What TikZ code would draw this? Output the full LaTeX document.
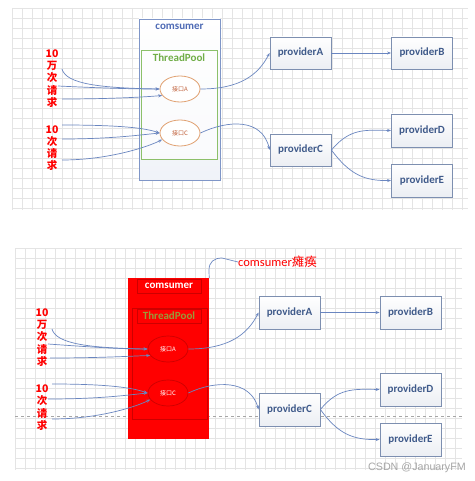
\documentclass[tikz,border=0pt]{standalone}
\usepackage{fontspec}
\setmainfont{Carlito}
\newfontfamily\cjk{Noto Sans CJK SC}
\newfontfamily\wmfont{Liberation Sans}
\usetikzlibrary{arrows.meta,shapes.geometric}
\definecolor{gridc}{HTML}{E4E4E4}
\definecolor{arrc}{HTML}{6A86C0}
\definecolor{consb}{HTML}{7F96C8}
\definecolor{consT}{HTML}{4F6BB5}
\definecolor{tpg}{HTML}{8CC06A}
\definecolor{tpT}{HTML}{70AD47}
\definecolor{ellb}{HTML}{E0A070}
\definecolor{ellT}{HTML}{C0603A}
\definecolor{provb}{HTML}{7D8FB0}
\definecolor{provT}{HTML}{3F5A8A}
\definecolor{darkred}{HTML}{C00000}
\definecolor{olive}{HTML}{9A9A3A}
\definecolor{reqred}{HTML}{FF0000}
\tikzset{
  gridline/.style={draw=gridc, line width=0.5pt},
  consbox/.style={draw=consb, line width=0.9pt, top color=white, bottom color=consb!12, minimum width=81pt, minimum height=161pt, inner sep=0pt},
  tpbox/.style={draw=tpg, line width=0.9pt, fill=white, fill opacity=0.6, minimum width=76pt, minimum height=109pt, inner sep=0pt},
  ell/.style={ellipse, draw=ellb, line width=0.8pt, fill=white, minimum width=40pt, minimum height=26pt, inner sep=0pt, text=ellT, font=\cjk\fontsize{6}{7}\selectfont},
  rell/.style={ellipse, draw=darkred!80!red, line width=0.7pt, minimum width=40pt, minimum height=26pt, inner sep=0pt, text=white, font=\cjk\fontsize{6}{7}\selectfont},
  prov/.style={draw=provb, line width=0.8pt, top color=white, bottom color=provb!15, minimum width=61pt, minimum height=32pt, inner sep=0pt, text=provT, font=\bfseries\fontsize{11}{12}\selectfont},
  reqtext/.style={text=reqred, align=center, inner sep=0pt, font=\cjk\bfseries\fontsize{10.5}{12.25}\selectfont},
  conn/.style={draw=arrc, line width=0.7pt, -{Stealth[length=4pt,width=3pt]}},
  plain/.style={draw=arrc, line width=0.7pt},
  titletext/.style={inner sep=0pt, font=\bfseries\fontsize{11}{12}\selectfont}
}
\begin{document}
\begin{tikzpicture}[x=1pt,y=-1pt]
\useasboundingbox (0,0) rectangle (474,481);
\fill[white] (0,0) rectangle (474,481);
% grids
\foreach \x in {12,22,...,468} \draw[gridline] (\x,8) -- (\x,210);
\foreach \y in {8,18,...,208} \draw[gridline] (12,\y) -- (468,\y);
\foreach \x in {15,25,...,462} \draw[gridline] (\x,248) -- (\x,470);
\foreach \y in {248,258,...,468} \draw[gridline] (15,\y) -- (462,\y);
\draw[draw=gray!70, dashed, line width=0.6pt] (15,416) -- (462,416);

% ===== top diagram =====
\node[consbox] (cons1) at (179.5,99.5) {};
\node[titletext, text=consT] (cons1t) at (179.5,27) {comsumer};
\node[tpbox] (tp1) at (179,104.5) {};
\node[titletext, text=tpT] (tp1t) at (179,58) {ThreadPool};
\node[ell] (iA1) at (180,89) {接口A};
\node[ell] (iC1) at (180,133) {接口C};
\node[prov] (pA1) at (300.5,53) {providerA};
\node[prov] (pB1) at (422,53) {providerB};
\node[prov] (pC1) at (300.5,150) {providerC};
\node[prov, minimum height=33pt] (pD1) at (422,130.5) {providerD};
\node[prov, minimum height=33pt] (pE1) at (422,180.5) {providerE};
\node[reqtext] (r1) at (52,78.5) {10\\万\\次\\请\\求};
\node[reqtext] (r2) at (52,148) {10\\次\\请\\求};

\coordinate (s1) at (62,69);
\coordinate (s2) at (58,86);
\coordinate (s3) at (62,99);
\coordinate (t1) at (62,125);
\coordinate (t2) at (62,139);
\coordinate (t3) at (62,160);
\draw[conn] (s1) .. controls (66,84) and (100,88) .. (iA1.west);
\draw[conn] (s2) .. controls (100,88) and (130,89) .. (iA1.west);
\draw[conn] (s3) .. controls (110,99) and (145,97) .. (iA1.200);
\draw[conn] (t1) .. controls (120,125) and (145,128) .. (iC1.west);
\draw[conn] (t2) .. controls (110,139) and (140,135) .. (iC1.west);
\draw[conn] (t3) .. controls (110,160) and (150,146) .. (iC1.200);
\draw[conn] (iA1.east) .. controls (240,89) and (258,75) .. (pA1.west);
\draw[conn] (pA1) -- (pB1);
\draw[conn] (iC1.east) .. controls (228,120) and (262,118) .. (pC1.west);
\draw[conn] (pC1.east) .. controls (350,128) and (365,130) .. (pD1.west);
\draw[conn] (pC1.east) .. controls (350,175) and (365,181) .. (pE1.west);

% ===== bottom diagram =====
\node[fill=red, minimum width=81pt, minimum height=161pt, inner sep=0pt] (cons2) at (168.5,358.5) {};
\node[draw=darkred!80!red, line width=0.6pt, minimum width=75pt, minimum height=111pt, inner sep=0pt] (tp2) at (169.5,363.5) {};
\node[draw=darkred!80!red, line width=0.6pt, minimum width=64pt, minimum height=14pt, inner sep=0pt, text=white, font=\bfseries\fontsize{11}{12}\selectfont] (cons2t) at (169,286) {comsumer};
\node[draw=darkred!80!red, line width=0.6pt, minimum width=64pt, minimum height=14pt, inner sep=0pt, text=olive, font=\bfseries\fontsize{11}{12}\selectfont] (tp2t) at (169,316) {ThreadPool};
\node[rell] (iA2) at (168,349) {接口A};
\node[rell] (iC2) at (168,393) {接口C};
\node[prov, minimum height=33pt] (pA2) at (289.5,312.5) {providerA};
\node[prov, minimum height=33pt] (pB2) at (410.5,312.5) {providerB};
\node[prov, minimum height=33pt] (pC2) at (289.5,409.5) {providerC};
\node[prov, minimum height=33pt] (pD2) at (410.5,389.5) {providerD};
\node[prov, minimum height=33pt] (pE2) at (410.5,439.5) {providerE};
\node[reqtext] (r3) at (42,337.5) {10\\万\\次\\请\\求};
\node[reqtext] (r4) at (42,407.5) {10\\次\\请\\求};
\node[anchor=west, inner sep=0pt, text=red, font=\fontsize{12.5}{13}\selectfont] (lab) at (238,262) {comsumer{\cjk 瘫痪}};
\draw[plain] (cons2.north east) -- (209,270) .. controls (209,262) and (214,258) .. (222,258) -- (lab.west);

\coordinate (u1) at (52,329);
\coordinate (u2) at (48,344);
\coordinate (u3) at (50,358);
\coordinate (v1) at (52,384);
\coordinate (v2) at (48,399);
\coordinate (v3) at (52,419);
\draw[conn] (u1) .. controls (56,344) and (90,348) .. (iA2.west);
\draw[conn] (u2) .. controls (90,347) and (120,349) .. (iA2.west);
\draw[conn] (u3) .. controls (100,358) and (133,356) .. (iA2.200);
\draw[conn] (v1) .. controls (110,384) and (133,388) .. (iC2.west);
\draw[conn] (v2) .. controls (100,399) and (128,395) .. (iC2.west);
\draw[conn] (v3) .. controls (100,419) and (138,406) .. (iC2.200);
\draw[conn] (iA2.east) .. controls (228,349) and (247,335) .. (pA2.west);
\draw[conn] (pA2) -- (pB2);
\draw[conn] (iC2.east) .. controls (216,380) and (250,380) .. (pC2.west);
\draw[conn] (pC2.east) .. controls (338,388) and (353,389) .. (pD2.west);
\draw[conn] (pC2.east) .. controls (338,434) and (353,440) .. (pE2.west);

\node[anchor=east, inner sep=0pt, text=gray!70, font=\wmfont\fontsize{10.7}{12}\selectfont] (wm) at (466,468) {CSDN @JanuaryFM};
\end{tikzpicture}
\end{document}
